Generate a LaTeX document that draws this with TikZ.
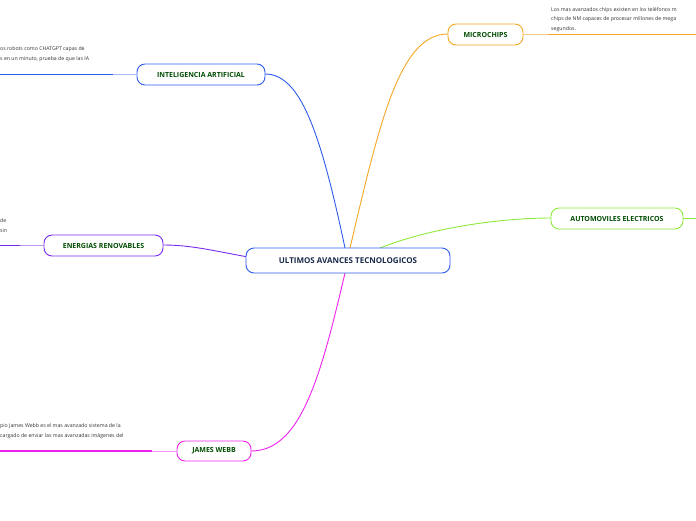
\documentclass[tikz,border=0pt]{standalone}
\usepackage{fontspec}
\setmainfont{Open Sans}
\begin{document}
\begin{tikzpicture}[x=1pt,y=-1pt,
  topic/.style={draw,rounded corners=8pt,line width=0.9pt,fill=white,font=\bfseries\fontsize{7}{8}\selectfont,text=green!30!black,inner sep=0pt},
  note/.style={anchor=west,font=\fontsize{5.2}{6}\selectfont,text=black!80,inner sep=0pt},
  br/.style={line width=0.9pt}]
\useasboundingbox (0,0) rectangle (696,520);
\definecolor{colb}{HTML}{2E5BF0}\definecolor{colo}{HTML}{F5A623}\definecolor{colg}{HTML}{8EEA3A}
\definecolor{colp}{HTML}{7A2BF0}\definecolor{colm}{HTML}{EE22EE}\definecolor{colt}{HTML}{1A2A4A}
% branches
\draw[br,colb] (345,248) .. controls (320,130) and (300,74) .. (265,74);
\draw[br,colo] (350,248) .. controls (380,120) and (400,34) .. (448,34);
\draw[br,colg] (380,248) .. controls (430,228) and (500,218) .. (551,218);
\draw[br,colp] (248,257) .. controls (210,250) and (190,245) .. (163,245);
\draw[br,colm] (345,273) .. controls (320,380) and (300,451) .. (251,451);
% nodes
\node[topic,draw=colb,text=colt,minimum width=204pt,minimum height=25pt,font=\bfseries\fontsize{8}{9}\selectfont] (c) at (348,260.5) {ULTIMOS AVANCES TECNOLOGICOS};
\node[topic,draw=colb,minimum width=128pt,minimum height=21pt] (ia) at (201,74.5) {INTELIGENCIA ARTIFICIAL};
\node[topic,draw=colo,minimum width=75pt,minimum height=21pt] (mc) at (485.5,34.5) {MICROCHIPS};
\node[topic,draw=colg,minimum width=132pt,minimum height=21pt] (au) at (617,218.5) {AUTOMOVILES ELECTRICOS};
\node[topic,draw=colp,minimum width=119pt,minimum height=21pt] (en) at (103.5,245.5) {ENERGIAS RENOVABLES};
\node[topic,draw=colm,minimum width=74pt,minimum height=20pt] (jw) at (214,451) {JAMES WEBB};
% leaf lines
\draw[colb!40,line width=0.8pt] (ia.west) -- (0,74.5);
\draw[colb,line width=1.2pt] (113,74.5) -- (0,74.5);
\draw[colo!60,line width=0.8pt] (mc.east) -- (696,34.5);
\draw[colo,line width=1.2pt] (548,34.5) -- (696,34.5);
\draw[colg,line width=0.9pt] (au.east) -- (696,218.5);
\draw[colp!50,line width=0.8pt] (en.west) -- (0,245.5);
\draw[colp,line width=1.2pt] (20,245.5) -- (0,245.5);
\draw[colm!50,line width=0.8pt] (jw.west) -- (0,451);
\draw[colm,line width=1.2pt] (152,451) -- (0,451);
% notes
\node[note] (n1) at (0,49) {os robots como CHATGPT capas de};
\node[note] (n2) at (0,59) {s en un minuto, prueba de que las IA};
\node[note] (n3) at (551,10) {Los mas avanzados chips existen en los teléfonos m};
\node[note] (n4) at (551,19.5) {chips de NM capaces de procesar millones de mega};
\node[note] (n5) at (551,29) {segundos.};
\node[note] (n6) at (0,221) {de};
\node[note] (n7) at (0,231) {sin};
\node[note] (n8) at (0,426) {pio James Webb es el mas avanzado sistema de la};
\node[note] (n9) at (0,436) {cargado de enviar las mas avanzadas imágenes del};
\end{tikzpicture}
\end{document}
